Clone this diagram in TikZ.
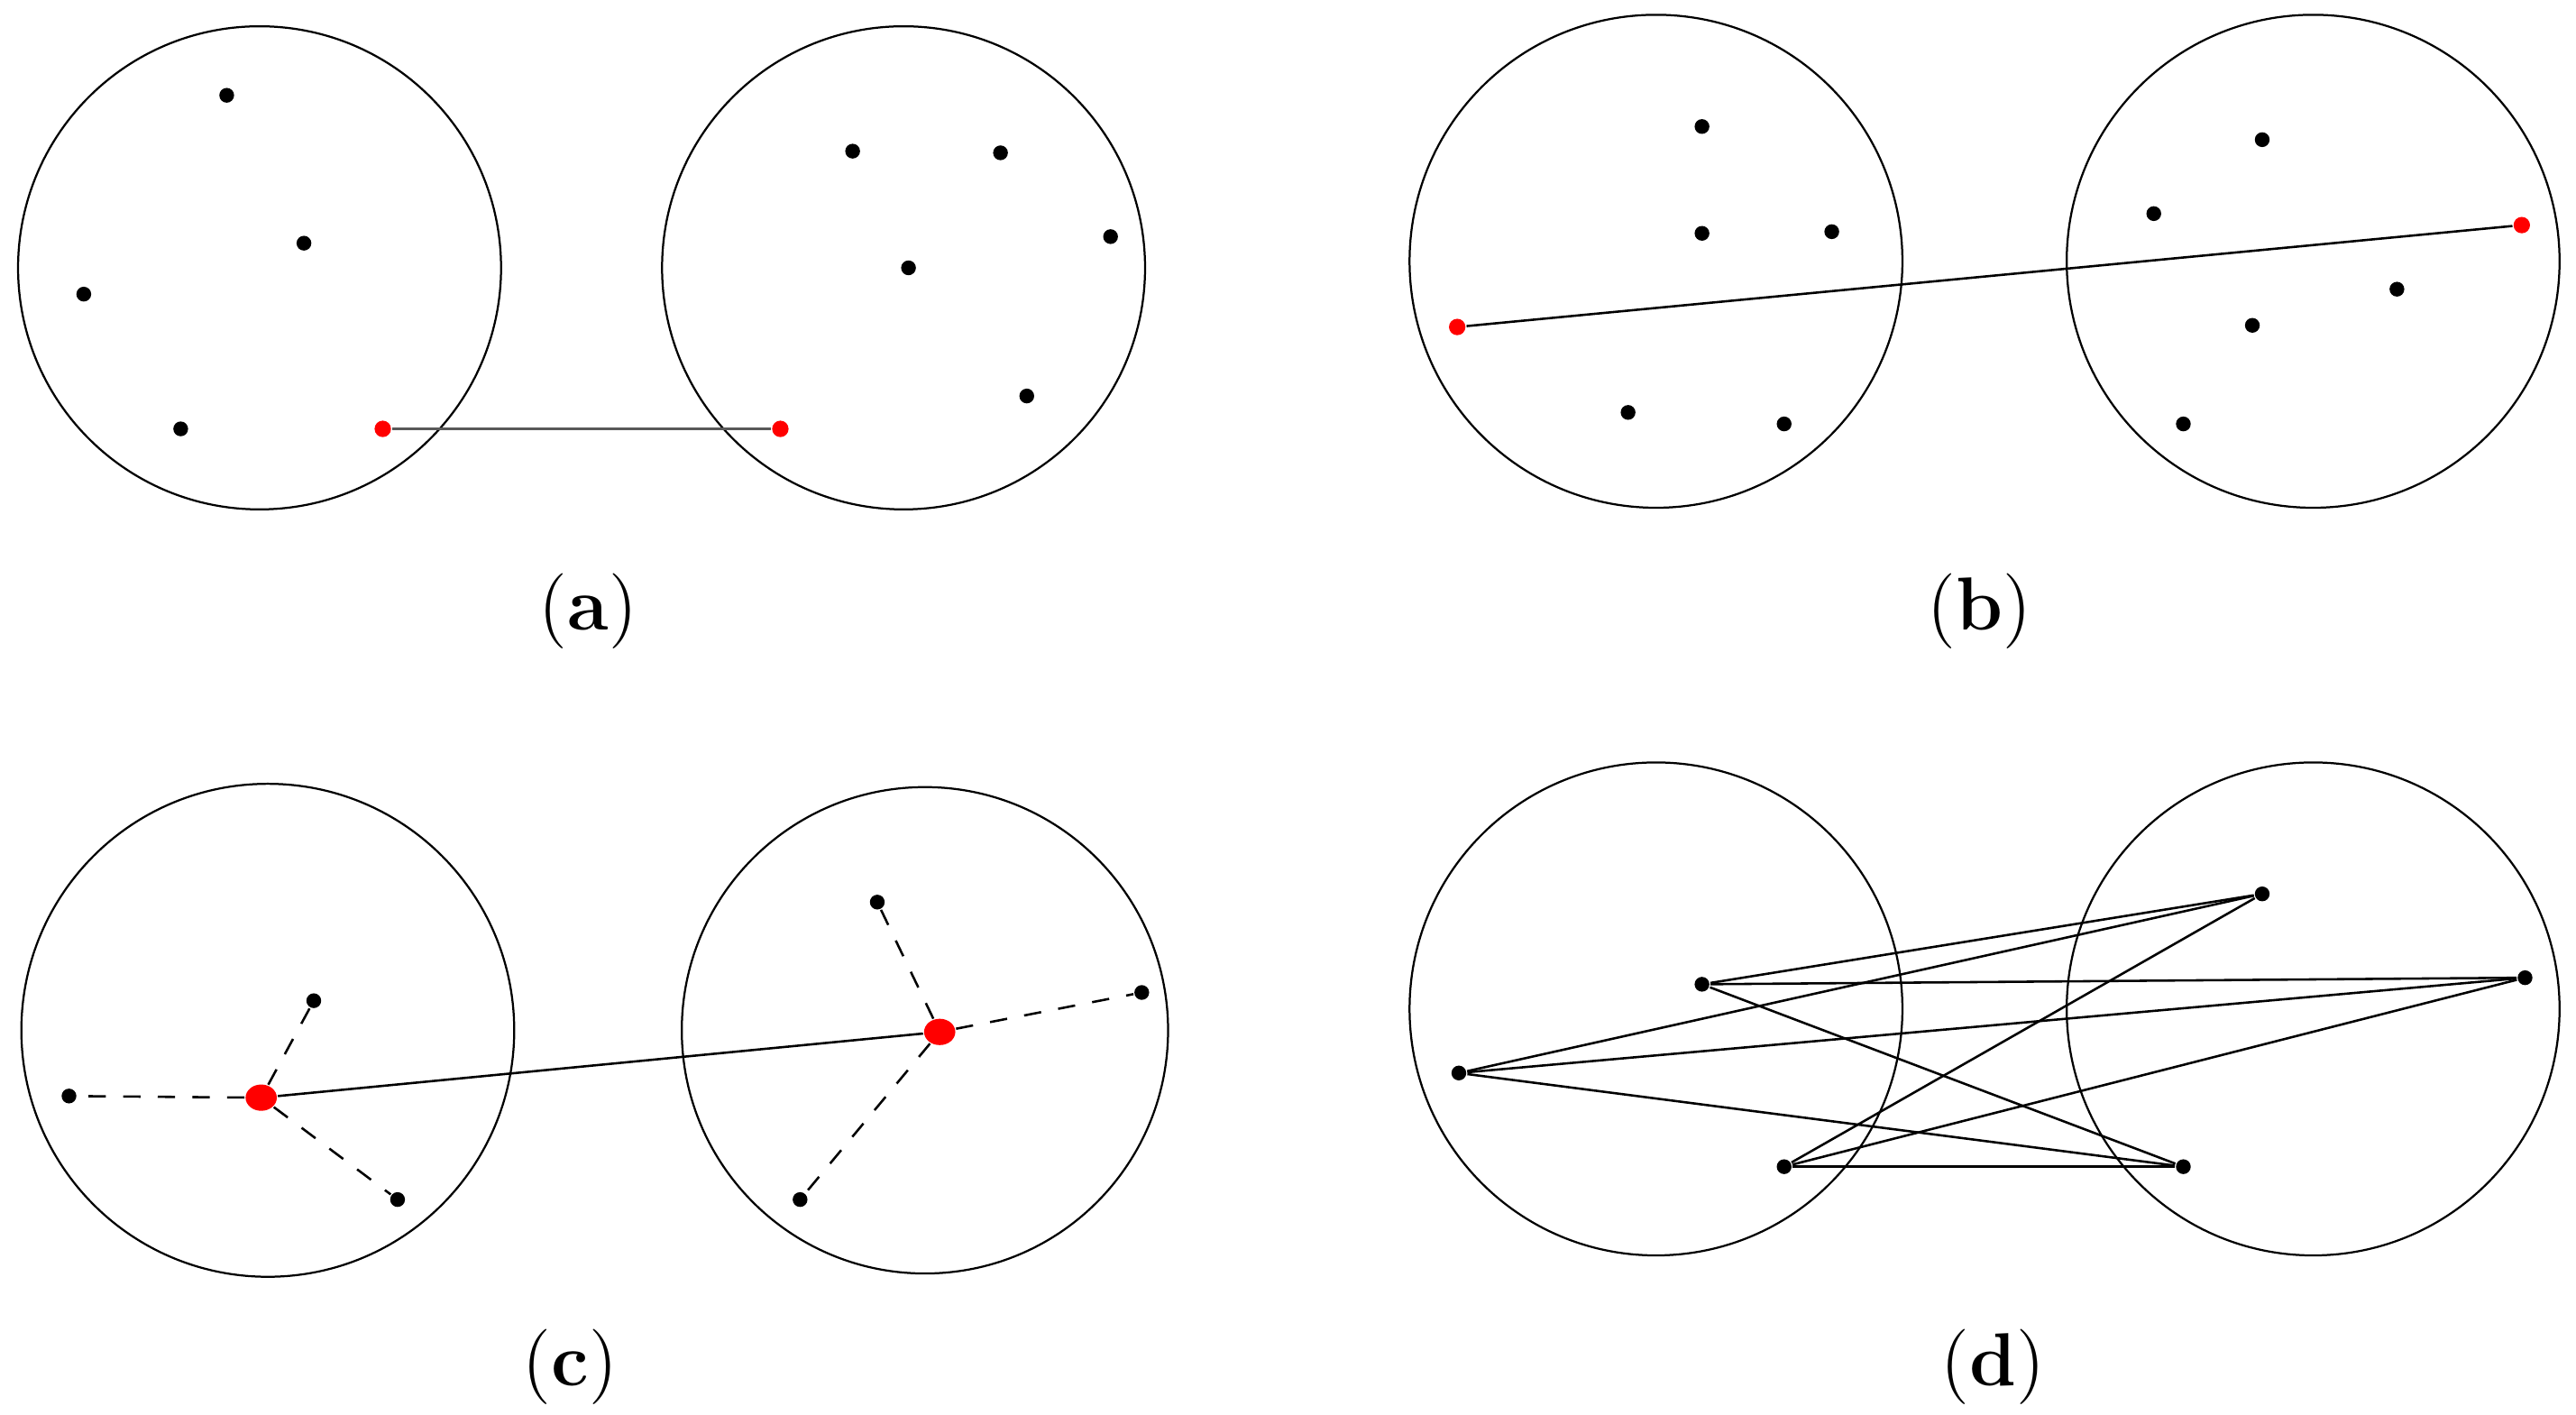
\documentclass[tikz,border=0pt]{standalone}
\usetikzlibrary{shapes.geometric}
\begin{document}
\begin{tikzpicture}[x=0.01cm,y=-0.01cm,
  circ/.style={draw,line width=0.35pt},
  dot/.style={circle,fill=black,inner sep=0pt,minimum size=0.09cm},
  rdot/.style={circle,fill=red,inner sep=0pt,minimum size=0.1cm},
  bigr/.style={ellipse,fill=red,inner sep=0pt,minimum width=0.19cm,minimum height=0.16cm},
  edge/.style={line width=0.4pt},
  dsh/.style={dashed,line width=0.4pt},
  lab/.style={font=\fontsize{13}{15}\selectfont}]
\useasboundingbox (0,0) rectangle (1568,861);
% (a)
\draw[circ] (158,163) circle (147);
\draw[circ] (550,163) circle (147);
\foreach \n/\p in {a1/{(138,58)},a2/{(185,148)},a3/{(51,179)},a4/{(110,261)},a5/{(519,92)},a6/{(609,93)},a7/{(676,144)},a8/{(553,163)},a9/{(625,241)}}
  \node[dot] (\n) at \p {};
\node[rdot] (ar1) at (233,261) {};
\node[rdot] (ar2) at (475,261) {};
\draw[edge,gray!70!black] (ar1) -- (ar2);
\node[lab] (la) at (358,372) {(\textbf{a})};
% (b)
\draw[circ] (1008,159) circle (150);
\draw[circ] (1408,159) circle (150);
\foreach \n/\p in {b1/{(1036,77)},b2/{(1036,142)},b3/{(1115,141)},b4/{(991,251)},b5/{(1086,258)},b6/{(1377,85)},b7/{(1311,130)},b8/{(1459,176)},b9/{(1371,198)},b10/{(1329,258)}}
  \node[dot] (\n) at \p {};
\node[rdot] (br1) at (887,199) {};
\node[rdot] (br2) at (1535,137) {};
\draw[edge] (br1) -- (br2);
\node[lab] (lb) at (1205,372) {(\textbf{b})};
% (c)
\draw[circ] (163,627) circle (150);
\draw[circ] (563,627) circle (148);
\node[bigr] (cr1) at (159,668) {};
\node[bigr] (cr2) at (572,628) {};
\node[dot] (c1) at (191,609) {};
\node[dot] (c2) at (42,667) {};
\node[dot] (c3) at (242,730) {};
\node[dot] (c4) at (534,549) {};
\node[dot] (c5) at (695,604) {};
\node[dot] (c6) at (487,730) {};
\foreach \t in {c1,c2,c3} \draw[dsh] (cr1) -- (\t);
\foreach \t in {c4,c5,c6} \draw[dsh] (cr2) -- (\t);
\draw[edge] (cr1) -- (cr2);
\node[lab] (lc) at (347,832) {(\textbf{c})};
% (d)
\draw[circ] (1008,614) circle (150);
\draw[circ] (1408,614) circle (150);
\node[dot] (dA) at (888,653) {};
\node[dot] (dB) at (1036,599) {};
\node[dot] (dC) at (1086,710) {};
\node[dot] (dD) at (1377,544) {};
\node[dot] (dE) at (1537,595) {};
\node[dot] (dF) at (1329,710) {};
\foreach \s in {dA,dB,dC} \foreach \t in {dD,dE,dF} \draw[edge] (\s) -- (\t);
\node[lab] (ld) at (1213,832) {(\textbf{d})};
\end{tikzpicture}
\end{document}
